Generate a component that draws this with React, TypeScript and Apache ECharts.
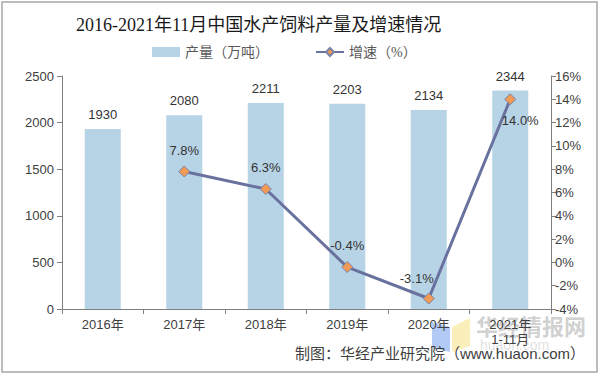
import React, { useEffect, useRef } from "react";
import * as echarts from "echarts";

const categories = ["2016年", "2017年", "2018年", "2019年", "2020年", "2021年\n1-11月"];
const production = [1930, 2080, 2211, 2203, 2134, 2344];
const growth: (number | null)[] = [null, 7.8, 6.3, -0.4, -3.1, 14.0];
const leftTicks = { min: 0, max: 2500, interval: 500 };
const rightTicks = { min: -4, max: 16, interval: 2 };

const SERIF = "'Liberation Serif', 'Noto Sans CJK SC', serif";
const SANS = "'Liberation Sans', Arial, 'Noto Sans CJK SC', sans-serif";

export default function App() {
  const ref = useRef<HTMLDivElement>(null);
  useEffect(() => {
    if (!ref.current) return;
    const chart = echarts.init(ref.current, null, { renderer: "svg" });
    const growthData = growth.map((v, i) => {
      if (v === null) return null;
      let label: any = { position: "top", distance: 9 };
      if (i === 4) label = { position: "top", distance: 8, offset: [-12, 0] };
      if (i === 5) label = { position: "bottom", distance: 9, offset: [10, 0] };
      return { value: v, label };
    });
    chart.setOption({
      animation: false,
      backgroundColor: "#fff",
      title: {
        text: "2016-2021年11月中国水产饲料产量及增速情况",
        left: 71,
        top: 11,
        textStyle: { fontFamily: SERIF, fontSize: 18, fontWeight: "normal", color: "#1a1a1a" },
      },
      legend: {
        top: 40,
        left: 147,
        itemGap: 46,
        itemWidth: 28,
        itemHeight: 10,
        textStyle: { fontFamily: SERIF, fontSize: 14, color: "#595959" },
        data: [
          { name: "产量（万吨）", icon: "rect" },
          { name: "增速（%）" },
        ],
      },
      grid: { left: 62, right: 49, top: 76, bottom: 67 },
      xAxis: {
        type: "category",
        data: categories,
        axisLine: { lineStyle: { color: "#7f7f7f" } },
        axisTick: { show: true, length: 5, lineStyle: { color: "#7f7f7f" } },
        axisLabel: { color: "#404040", fontSize: 13, fontFamily: SANS, margin: 8, lineHeight: 15 },
      },
      yAxis: [
        {
          type: "value",
          ...leftTicks,
          splitLine: { show: false },
          axisLine: { show: true, lineStyle: { color: "#7f7f7f" } },
          axisTick: { show: true, length: 5, lineStyle: { color: "#7f7f7f" } },
          axisLabel: { color: "#404040", fontSize: 13, fontFamily: SANS, margin: 8, formatter: (v: number) => String(v) },
        },
        {
          type: "value",
          ...rightTicks,
          position: "right",
          splitLine: { show: false },
          axisLine: { show: true, lineStyle: { color: "#7f7f7f" } },
          axisTick: { show: true, length: 5, lineStyle: { color: "#7f7f7f" } },
          axisLabel: { color: "#404040", fontSize: 13, fontFamily: SANS, margin: 4, formatter: "{value}%" },
        },
      ],
      series: [
        {
          name: "产量（万吨）",
          type: "bar",
          data: production,
          barWidth: 36,
          itemStyle: { color: "#B7D3E6" },
          label: { show: true, position: "top", distance: 8, color: "#333", fontSize: 13, fontFamily: SANS },
        },
        {
          name: "增速（%）",
          type: "line",
          yAxisIndex: 1,
          data: growthData,
          symbol: "diamond",
          symbolSize: 11,
          lineStyle: { color: "#69729E", width: 3 },
          itemStyle: { color: "#F29B56", borderColor: "#7B82A8", borderWidth: 1 },
          label: {
            show: true,
            color: "#333",
            fontSize: 13,
            fontFamily: SANS,
            formatter: (p: any) => Number(p.value).toFixed(1) + "%",
          },
          z: 5,
        },
      ],
      graphic: [
        {
          type: "rect",
          shape: { x: 2, y: 2, width: 595, height: 370 },
          style: { fill: "none", stroke: "#a6a6a6", lineWidth: 1.5 },
          silent: true,
        },
        {
          type: "polygon",
          shape: { points: [[432, 322], [450, 327], [450, 352], [432, 348]] },
          style: { fill: "#7fa8f0", opacity: 0.6 },
          silent: true,
        },
        {
          type: "polygon",
          shape: { points: [[452, 327], [470, 318], [470, 346], [452, 352]] },
          style: { fill: "#f8e48a", opacity: 0.6 },
          silent: true,
        },
        {
          type: "text",
          left: 476,
          top: 314,
          style: { text: "华经情报网", font: "bold 22px 'Noto Sans CJK SC'", fill: "rgba(150,150,150,0.45)" },
          silent: true,
        },
        {
          type: "text",
          left: 480,
          top: 338,
          style: { text: "huaon.com", font: "14px 'Liberation Sans'", fill: "rgba(150,150,150,0.3)" },
          silent: true,
        },
        {
          type: "text",
          right: 15,
          top: 346,
          style: {
            text: "制图：华经产业研究院（www.huaon.com）",
            font: "15px 'Liberation Sans', 'Noto Sans CJK SC'",
            fill: "#404040",
          },
          z: 10,
        },
      ],
    });
    return () => chart.dispose();
  }, []);
  return <div ref={ref} style={{ width: 600, height: 376, position: "absolute", left: 0, top: 0 }} />;
}
